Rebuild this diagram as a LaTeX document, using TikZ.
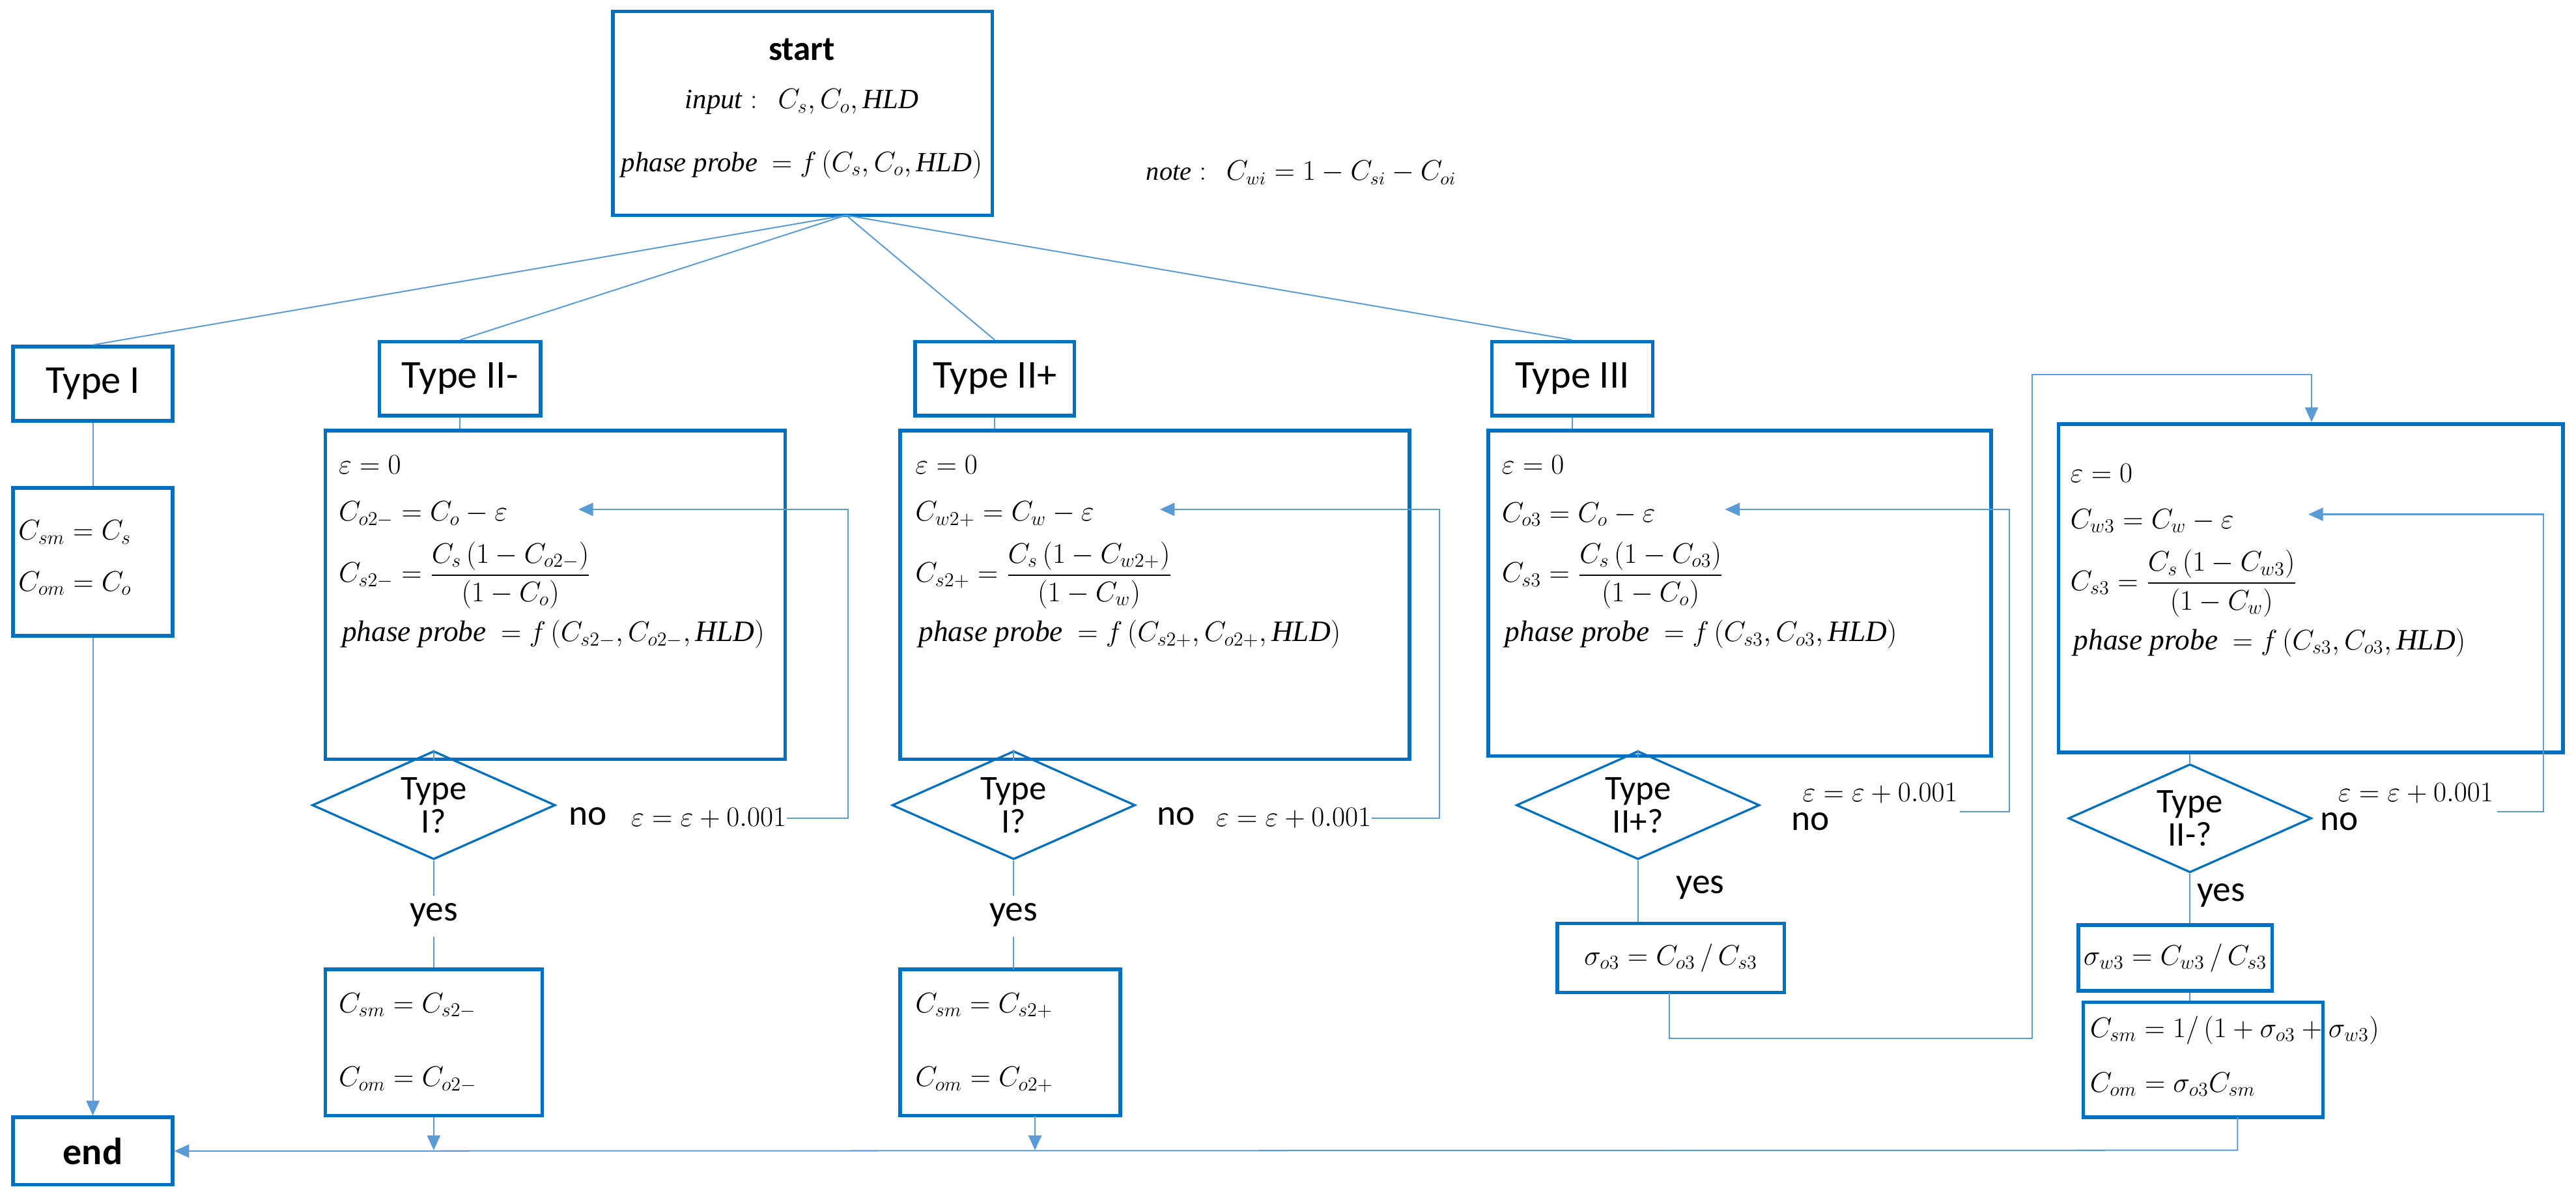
\documentclass[tikz,border=0pt]{standalone}
\usepackage{amsmath}
\usepackage{fontspec}
\setmainfont{Carlito}
\newfontfamily\tms{Liberation Serif}
\newcommand{\mi}[1]{\text{\tms\itshape #1}}
\usetikzlibrary{shapes.geometric,arrows.meta}
\definecolor{bx}{HTML}{0070C0}
\definecolor{ln}{HTML}{5B9BD5}
\begin{document}
\begin{tikzpicture}[x=1pt,y=-1pt,
 box/.style={draw=bx,line width=2.2pt,inner sep=0},
 tl/.style={font=\fontsize{24}{26}\selectfont},
 eq/.style={anchor=west,inner sep=0,font=\fontsize{18}{21}\selectfont},
 dia/.style={diamond,draw=bx,line width=1.3pt,minimum width=148pt,minimum height=66pt,inner sep=-6pt,align=center,font=\fontsize{21}{20}\selectfont},
 lbl/.style={font=\fontsize{22}{24}\selectfont,inner sep=0},
 cn/.style={draw=ln,line width=0.8pt},
 ar/.style={cn,-{Triangle[width=8pt,length=9pt]}}]
\useasboundingbox (0,0) rectangle (1568,729);
% start
\draw[box] (373,7) rectangle (604,131);
\node (start) at (488.5,69) {};
\node[font=\fontsize{21}{22}\selectfont\bfseries] at (488,30) {start};
\node[font=\fontsize{17}{20}\selectfont] at (488,62) {$\mi{input}:\ \ C_s,C_o,\mi{HLD}$};
\node[font=\fontsize{17}{20}\selectfont] at (488,100) {$\mi{phase\ probe}\ =f\left(C_s,C_o,\mi{HLD}\right)$};
\node[font=\fontsize{16}{20}\selectfont] at (792,105) {$\mi{note}:\ \ C_{wi}=1-C_{si}-C_{oi}$};
\coordinate (sb) at (515,131);
% types
\node[box,tl,minimum width=97pt,minimum height=45pt] (t1) at (56.5,233.5) {Type I};
\node[box,tl,minimum width=98pt,minimum height=45pt] (t2) at (280,230.5) {Type II-};
\node[box,tl,minimum width=97pt,minimum height=45pt] (t3) at (605.5,230.5) {Type II+};
\node[box,tl,minimum width=98pt,minimum height=45pt] (t4) at (957,230.5) {Type III};
\draw[cn] (sb) -- (t1.north);
\draw[cn] (sb) -- (t2.north);
\draw[cn] (sb) -- (t3.north);
\draw[cn] (sb) -- (t4.north);
% Type I column
\node[box,minimum width=97pt,minimum height=90pt] (e1) at (56.5,342) {};
\node[eq] at (11,324) {$C_{sm}=C_s$};
\node[eq] at (11,355) {$C_{om}=C_o$};
\node[box,minimum width=97pt,minimum height=41pt,font=\fontsize{23}{24}\selectfont\bfseries] (end) at (56.5,700.5) {end};
\draw[cn] (t1) -- (e1);
\draw[ar] (e1) -- (end);
% Type II- column
\node[box,minimum width=280pt,minimum height=200pt] (b2) at (338,362) {};
\draw[cn] (t2) -- (b2.north -| t2);
\node[eq] at (206,283) {$\varepsilon=0$};
\node[eq] at (206,313) {$C_{o2-}=C_o-\varepsilon$};
\node[eq] at (206,350) {$C_{s2-}=\dfrac{C_s\left(1-C_{o2-}\right)}{\left(1-C_o\right)}$};
\node[eq] at (208,386) {$\mi{phase\ probe}\ =f\left(C_{s2-},C_{o2-},\mi{HLD}\right)$};
\node[dia] (d2) at (264,490) {Type\\I?};
\draw[cn] (b2.south -| d2) -- (d2.north);
\node[lbl] at (358,497) {no};
\node[eq] (n2) at (384,498) {$\varepsilon=\varepsilon+0.001$};
\coordinate (l2a) at (516,498);
\coordinate (l2b) at (516,310);
\coordinate (l2c) at (352,310);
\draw[ar] (n2.east) -- (l2a) -- (l2b) -- (l2c);
\node[lbl] at (264,557) {yes};
\node[box,minimum width=132pt,minimum height=89pt] (r2) at (264,634.5) {};
\node[eq] at (206,612) {$C_{sm}=C_{s2-}$};
\node[eq] at (206,657) {$C_{om}=C_{o2-}$};
\draw[cn] (d2.south) -- (264,545);
\draw[cn] (264,570) -- (r2.north);
\coordinate (j2) at (264,700);
\draw[ar] (r2.south) -- (j2);
% Type II+ column
\node[box,minimum width=310pt,minimum height=200pt] (b3) at (703,362) {};
\draw[cn] (t3) -- (b3.north -| t3);
\node[eq] at (557,283) {$\varepsilon=0$};
\node[eq] at (557,313) {$C_{w2+}=C_w-\varepsilon$};
\node[eq] at (557,350) {$C_{s2+}=\dfrac{C_s\left(1-C_{w2+}\right)}{\left(1-C_w\right)}$};
\node[eq] at (559,386) {$\mi{phase\ probe}\ =f\left(C_{s2+},C_{o2+},\mi{HLD}\right)$};
\node[dia] (d3) at (617,490) {Type\\I?};
\draw[cn] (b3.south -| d3) -- (d3.north);
\node[lbl] at (716,497) {no};
\node[eq] (n3) at (740,498) {$\varepsilon=\varepsilon+0.001$};
\draw[ar] (n3.east) -- (876,498) -- (876,310) -- (706,310);
\node[lbl] at (617,557) {yes};
\node[box,minimum width=134pt,minimum height=89pt] (r3) at (615,634.5) {};
\node[eq] at (557,612) {$C_{sm}=C_{s2+}$};
\node[eq] at (557,657) {$C_{om}=C_{o2+}$};
\draw[cn] (d3.south) -- (617,545);
\draw[cn] (617,570) -- (617,590);
\coordinate (j3) at (630,700);
\draw[ar] (630,679) -- (j3);
% Type III column
\node[box,minimum width=306pt,minimum height=198pt] (b4) at (1059,361) {};
\draw[cn] (t4) -- (b4.north -| t4);
\node[eq] at (914,283) {$\varepsilon=0$};
\node[eq] at (914,313) {$C_{o3}=C_o-\varepsilon$};
\node[eq] at (914,350) {$C_{s3}=\dfrac{C_s\left(1-C_{o3}\right)}{\left(1-C_o\right)}$};
\node[eq] at (916,386) {$\mi{phase\ probe}\ =f\left(C_{s3},C_{o3},\mi{HLD}\right)$};
\node[dia] (d4) at (997,490) {Type\\II+?};
\draw[cn] (b4.south -| d4) -- (d4.north);
\node[lbl] at (1102,500) {no};
\node[eq] (n4) at (1097,483) {$\varepsilon=\varepsilon+0.001$};
\draw[ar] (1193,494) -- (1223,494) -- (1223,310) -- (1050,310);
\node[lbl] at (1035,540) {yes};
\node[box,eq,anchor=center,minimum width=138pt,minimum height=42pt] (s4) at (1017,583) {$\sigma_{o3}=C_{o3}\,/\,C_{s3}$};
\draw[cn] (d4.south) -- (s4.north -| d4);
% right column
\node[box,minimum width=307pt,minimum height=200pt] (b5) at (1406.5,358) {};
\draw[ar] (1016,604) -- (1016,632) -- (1237,632) -- (1237,228) -- (1407,228) -- (b5.north -| 1407,0);
\node[eq] at (1260,288) {$\varepsilon=0$};
\node[eq] at (1260,317) {$C_{w3}=C_w-\varepsilon$};
\node[eq] at (1260,355) {$C_{s3}=\dfrac{C_s\left(1-C_{w3}\right)}{\left(1-C_w\right)}$};
\node[eq] at (1262,391) {$\mi{phase\ probe}\ =f\left(C_{s3},C_{o3},\mi{HLD}\right)$};
\node[dia] (d5) at (1333,498) {Type\\II-?};
\draw[cn] (b5.south -| d5) -- (d5.north);
\node[lbl] at (1424,500) {no};
\node[eq] (n5) at (1423,483) {$\varepsilon=\varepsilon+0.001$};
\draw[ar] (1520,494) -- (1548,494) -- (1548,313) -- (1405,313);
\node[lbl] at (1352,545) {yes};
\node[box,eq,anchor=center,minimum width=118pt,minimum height=40pt] (s5) at (1324,583) {$\sigma_{w3}=C_{w3}\,/\,C_{s3}$};
\draw[cn] (d5.south) -- (s5.north -| d5);
\node[box,minimum width=146pt,minimum height=70pt] (r5) at (1341,645) {};
\node[eq] at (1272,627) {$C_{sm}=1/\left(1+\sigma_{o3}+\sigma_{w3}\right)$};
\node[eq] at (1272,660) {$C_{om}=\sigma_{o3}C_{sm}$};
\draw[cn] (s5.south -| d5) -- (r5.north -| d5);
\draw[ar] (1362,680) -- (1362,700) -- (end.east);
\end{tikzpicture}
\end{document}
